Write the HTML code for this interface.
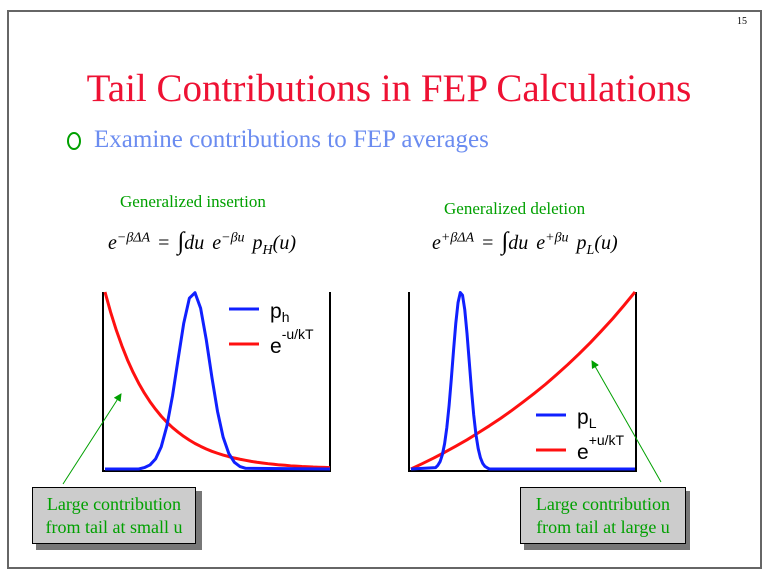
<!DOCTYPE html>
<html><head><meta charset="utf-8"><style>
body{margin:0;width:768px;height:576px;background:#fff;overflow:hidden;position:relative;font-family:"Liberation Serif",serif}
.t{position:absolute;white-space:nowrap}
</style></head><body>
<div style="position:absolute;left:7px;top:10px;width:751px;height:555px;border:2px solid #666"></div>
<div class="t" style="left:737px;top:16px;font-size:10px">15</div>
<div class="t" style="left:0;width:778px;text-align:center;top:66px;font-size:39px;color:#ee1133">Tail Contributions in FEP Calculations</div>
<div style="position:absolute;left:67px;top:132px;width:10px;height:14px;border:2.5px solid #00a000;border-radius:50%"></div>
<div class="t" style="left:94px;top:126px;font-size:25px;color:#6b8cf0">Examine contributions to FEP averages</div>
<div class="t" style="left:120px;top:192px;font-size:17px;color:#00a000">Generalized insertion</div>
<div class="t" style="left:444px;top:199px;font-size:17px;color:#00a000">Generalized deletion</div>
<div class="t" style="left:108px;top:228px;font-size:20px;font-style:italic;word-spacing:3px">e<sup style="font-size:14px">&minus;&beta;&Delta;A</sup> <span style="font-style:normal">=</span> <span style="font-style:normal;font-size:25px">&int;</span>du e<sup style="font-size:14px">&minus;&beta;u</sup> p<sub style="font-size:14px">H</sub>(u)</div>
<div class="t" style="left:432px;top:228px;font-size:20px;font-style:italic;word-spacing:3px">e<sup style="font-size:14px">+&beta;&Delta;A</sup> <span style="font-style:normal">=</span> <span style="font-style:normal;font-size:25px">&int;</span>du e<sup style="font-size:14px">+&beta;u</sup> p<sub style="font-size:14px">L</sub>(u)</div>

<svg id="chart" width="768" height="576" style="position:absolute;left:0;top:0">
<defs><marker id="ah" markerWidth="8" markerHeight="8" refX="7" refY="4" orient="auto"><path d="M0,0 L8,4 L0,8 z" fill="#00a000"/></marker></defs>
<g id="g"></g>
</svg>

<div style="position:absolute;left:36px;top:491px;width:166px;height:59px;background:#777"></div>
<div style="position:absolute;left:32px;top:487px;width:164px;height:57px;background:#cccccc;border:1px solid #000;color:#00a000;font-size:18px;line-height:23px;text-align:center;padding-top:5px;box-sizing:border-box">Large contribution<br>from tail at small u</div>
<div style="position:absolute;left:524px;top:491px;width:166px;height:59px;background:#777"></div>
<div style="position:absolute;left:520px;top:487px;width:166px;height:57px;background:#cccccc;border:1px solid #000;color:#00a000;font-size:18px;line-height:23px;text-align:center;padding-top:5px;box-sizing:border-box">Large contribution<br>from tail at large u</div>

<script>
const leftBlueU=[0,15,17.5,20,22.5,25,27.5,30,32.5,35,37.5,40,42.5,45,47.5,50,52.5,55,57.5,60,62.5,100];
const leftBlueV=[0,0,0.008,0.023,0.057,0.126,0.243,0.413,0.621,0.824,0.965,0.996,0.908,0.731,0.519,0.326,0.180,0.088,0.038,0.014,0.004,0];
const leftRedU=[0,2.5,5,7.5,10,12.5,15,17.5,20,22.5,25,27.5,30,32.5,35,37.5,40,42.5,45,47.5,50,52.5,55,57.5,60,62.5,65,67.5,70,72.5,75,77.5,80,82.5,85,87.5,90,92.5,95,97.5,100];
const leftRedV=[1,.886,.785,.696,.616,.546,.484,.429,.380,.337,.298,.264,.234,.208,.184,.163,.144,.128,.113,.100,.089,.079,.070,.062,.055,.049,.043,.038,.034,.030,.027,.023,.021,.018,.016,.014,.013,.011,.010,.009,.008];
const rightBlueU=[0,11,12,13,14,15,16,17,18,19,20,21,22,23,24,25,26,27,28,29,30,31,32,33,34,35,100];
const rightBlueV=[0,0.008,.021,.042,.081,.143,.235,.358,.509,.672,.824,.940,.997,.982,.900,.766,.607,.447,.305,.194,.115,.063,.032,.015,.007,0,0];
const rightRedU=[0,5,10,15,20,25,30,35,40,45,50,55,60,65,70,75,80,85,90,95,100];
const rightRedV=[0,.030,.061,.094,.129,.165,.204,.244,.286,.331,.378,.427,.478,.533,.590,.650,.713,.780,.849,.923,1];

const NS='http://www.w3.org/2000/svg';
const g=document.getElementById('g');
function mk(t,a){const e=document.createElementNS(NS,t);for(const k in a)e.setAttribute(k,a[k]);g.appendChild(e);return e;}
function panel(x0,x1,px0,px1,name){
  const base=469, top=292;
  const sx=u=>px0+u*(px1-px0)/100, sy=v=>base-v*(base-top);
  const ax=mk('path',{d:`M${x0},292 L${x0},471 L${x1},471 L${x1},292`,fill:'none',stroke:'#000','stroke-width':2});
  
  
  return {sx,sy};
}
function line(us,vs,s,col,name){
  const p=mk('polyline',{points:us.map((u,i)=>s.sx(u)+','+s.sy(vs[i])).join(' '),fill:'none',stroke:col,'stroke-width':3,'stroke-linejoin':'round'});
  
  
}
const L=panel(103,330,105,330,'left-chart');
line(leftRedU,leftRedV,L,'#ff1010','left-boltzmann-curve');
line(leftBlueU,leftBlueV,L,'#1020ff','left-ph-curve');
const R=panel(409,636,411,635,'right-chart');
line(rightRedU,rightRedV,R,'#ff1010','right-boltzmann-curve');
line(rightBlueU,rightBlueV,R,'#1020ff','right-pl-curve');

function leg(x,y,col,name){const e=mk('line',{x1:x,y1:y,x2:x+30,y2:y,stroke:col,'stroke-width':3});
  
  }
leg(229,309,'#1020ff','legend-ph-line');leg(229,344,'#ff1010','legend-boltz-line');
leg(536,415,'#1020ff','legend-pl-line');leg(536,450,'#ff1010','legend-boltz-plus-line');
function txt(x,y,html,name){const e=mk('text',{x:x,y:y,'font-family':'Liberation Sans, sans-serif','font-size':21});e.innerHTML=html;
  
  }
txt(270,318,'p<tspan font-size="14" dy="4">h</tspan>','legend-ph-label');
txt(270,353,'e<tspan font-size="14" dy="-14">-u/kT</tspan>','legend-boltz-label');
txt(577,424,'p<tspan font-size="14" dy="4">L</tspan>','legend-pl-label');
txt(577,459,'e<tspan font-size="14" dy="-14">+u/kT</tspan>','legend-boltz-plus-label');
const a1=mk('line',{x1:63,y1:484,x2:121,y2:394,stroke:'#00a000','stroke-width':1,'marker-end':'url(#ah)'});


const a2=mk('line',{x1:661,y1:482,x2:592,y2:361,stroke:'#00a000','stroke-width':1,'marker-end':'url(#ah)'});


</script>
</body></html>
